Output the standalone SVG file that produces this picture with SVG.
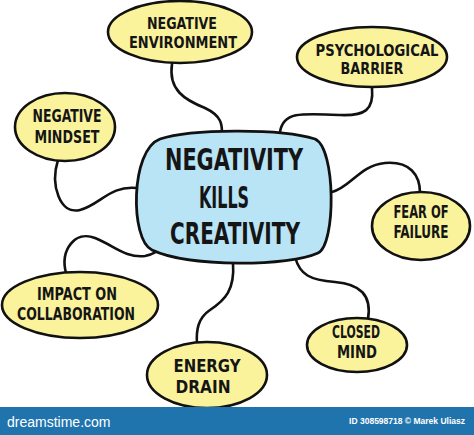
<svg xmlns="http://www.w3.org/2000/svg" width="474" height="435" viewBox="0 0 474 435">
<style>
.n{fill:#faf39c;stroke:#111;stroke-width:2.6}
.c{fill:#b8e4f6;stroke:#111;stroke-width:2.8}
.l{fill:none;stroke:#111;stroke-width:2.6;stroke-linecap:round}
.t{font-family:"Liberation Sans Narrow","DejaVu Sans Condensed","Liberation Sans",sans-serif;font-weight:bold;fill:#151515;text-anchor:middle}
.s{font-size:18px}
.s2{font-size:16px}
.b{font-size:31px}
</style>
<rect width="474" height="435" fill="#ffffff"/>
<g id="connectors">
<path class="l" d="M172,64 C168,90 185,100 205,108 C222,116 222,125 222,133"/>
<path class="l" d="M372,88 C374,110 365,116 340,115 C300,113 283,112 280,132"/>
<path class="l" d="M58,160 C50,185 60,215 80,210 C100,205 110,185 137,188"/>
<path class="l" d="M66,273 C60,250 75,230 95,238 C115,246 125,258 145,256 C155,254 160,250 164,245"/>
<path class="l" d="M332,192 C350,188 360,165 385,163 C410,161 420,175 420,193"/>
<path class="l" d="M233,263 C235,290 225,300 210,310 C198,318 196,330 197,344"/>
<path class="l" d="M295,257 C300,275 310,280 335,282 C360,284 372,295 368,319"/>
</g>
<g id="center">
<path class="c" d="M160,139 C190,129 280,128 315,139 C336,148 336,245 318,253 C290,266 190,268 152,250 C130,240 130,150 160,139 Z"/>
<text class="t b" x="234" y="170" textLength="138" lengthAdjust="spacingAndGlyphs">NEGATIVITY</text>
<text class="t b" x="224" y="208" textLength="50" lengthAdjust="spacingAndGlyphs">KILLS</text>
<text class="t b" x="235" y="244" textLength="130" lengthAdjust="spacingAndGlyphs">CREATIVITY</text>
</g>
<g id="negative-environment">
<ellipse class="n" cx="180" cy="32" rx="72" ry="31"/>
<text class="t s2" x="182" y="29" textLength="70" lengthAdjust="spacingAndGlyphs">NEGATIVE</text>
<text class="t s2" x="183" y="48" textLength="108" lengthAdjust="spacingAndGlyphs">ENVIRONMENT</text>
</g>
<g id="psychological-barrier">
<ellipse class="n" cx="372" cy="57" rx="75" ry="30"/>
<text class="t s2" x="377" y="56" textLength="123" lengthAdjust="spacingAndGlyphs">PSYCHOLOGICAL</text>
<text class="t s2" x="372" y="74" textLength="63" lengthAdjust="spacingAndGlyphs">BARRIER</text>
</g>
<g id="negative-mindset">
<ellipse class="n" cx="65" cy="127" rx="50" ry="34"/>
<text class="t s" x="67" y="122" textLength="69" lengthAdjust="spacingAndGlyphs">NEGATIVE</text>
<text class="t s" x="67" y="143" textLength="65" lengthAdjust="spacingAndGlyphs">MINDSET</text>
</g>
<g id="fear-of-failure">
<ellipse class="n" cx="421" cy="226" rx="49" ry="34"/>
<text class="t s" x="421" y="218" textLength="55" lengthAdjust="spacingAndGlyphs">FEAR OF</text>
<text class="t s" x="421" y="238" textLength="55" lengthAdjust="spacingAndGlyphs">FAILURE</text>
</g>
<g id="impact-on-collaboration">
<ellipse class="n" cx="80" cy="305" rx="78" ry="33"/>
<text class="t s" x="77" y="300" textLength="80" lengthAdjust="spacingAndGlyphs">IMPACT ON</text>
<text class="t s" x="76" y="320" textLength="118" lengthAdjust="spacingAndGlyphs">COLLABORATION</text>
</g>
<g id="energy-drain">
<ellipse class="n" cx="207" cy="375" rx="60" ry="33"/>
<text class="t s" x="207" y="372" textLength="67" lengthAdjust="spacingAndGlyphs">ENERGY</text>
<text class="t s" x="203" y="393" textLength="55" lengthAdjust="spacingAndGlyphs">DRAIN</text>
</g>
<g id="closed-mind">
<ellipse class="n" cx="357" cy="345" rx="50" ry="27"/>
<text class="t s" x="356" y="338" textLength="48" lengthAdjust="spacingAndGlyphs">CLOSED</text>
<text class="t s" x="357" y="358" textLength="40" lengthAdjust="spacingAndGlyphs">MIND</text>
</g>
<g id="footer">
<rect x="0" y="407" width="474" height="28" fill="#1f74ae"/>
<text x="7" y="427" font-family="'Liberation Sans',sans-serif" font-size="14" fill="#ffffff">dreamstime.com</text>
<text x="465" y="424" font-family="'Liberation Sans',sans-serif" font-size="8.5" font-weight="bold" fill="#ffffff" text-anchor="end">ID 308598718 © Marek Uliasz</text>
</g>
</svg>
